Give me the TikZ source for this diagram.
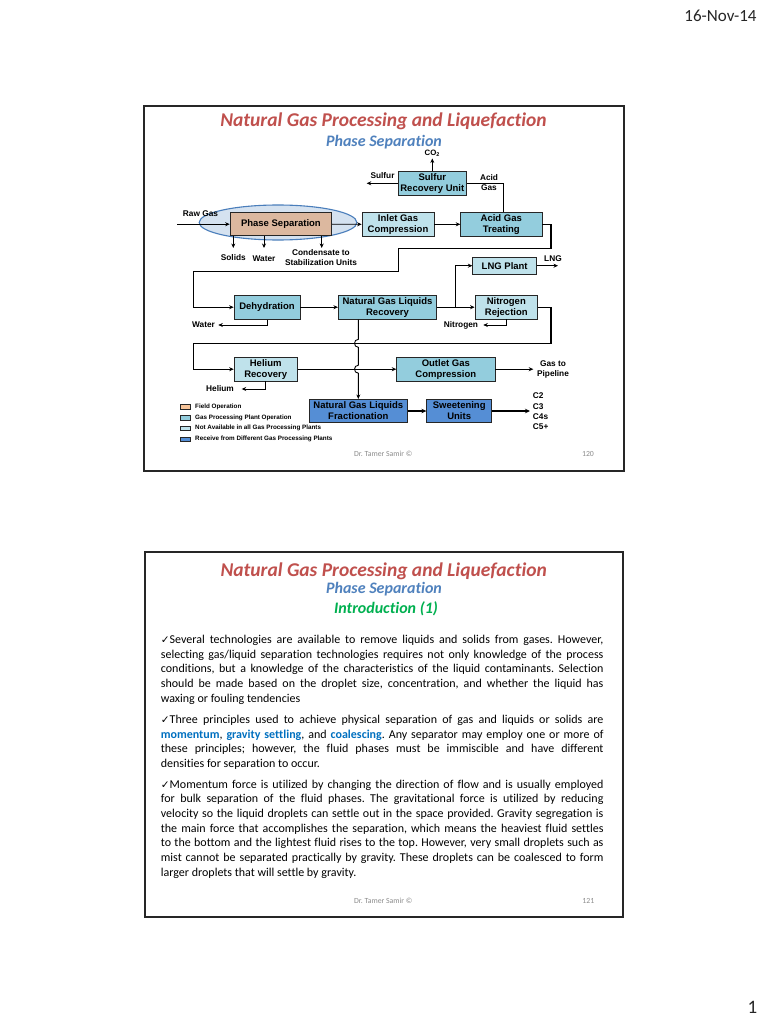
\documentclass[tikz,border=0pt]{standalone}
\usepackage{fontspec}
\setmainfont{Carlito}[Ligatures=NoCommon]
\newfontfamily\arialf{Liberation Sans}
\newfontfamily\dejavuf{DejaVu Sans}
\usetikzlibrary{arrows.meta,shapes.geometric}
\frenchspacing
\definecolor{titlered}{HTML}{C0504D}
\definecolor{subblue}{HTML}{4F81BD}
\definecolor{introgreen}{HTML}{00B050}
\definecolor{kwblue}{HTML}{0070C0}
\definecolor{teal}{HTML}{93CDDD}
\definecolor{ltblue}{HTML}{BFE2EB}
\definecolor{midblue}{HTML}{558ED5}
\definecolor{tanbox}{HTML}{DCB89F}
\definecolor{tanleg}{HTML}{F8C59A}
\definecolor{ellfill}{HTML}{D5E2F0}
\definecolor{ellline}{HTML}{4A7EBB}
\definecolor{footgray}{HTML}{8C8C8C}
\newcommand{\mychk}{{\dejavuf\fontsize{10.5}{10}\selectfont ✓}}
\begin{document}
\begin{tikzpicture}[x=1pt,y=-1pt,
  bx/.style n args={2}{draw=black!85, line width=0.7pt, inner sep=0pt, align=center,
     minimum width=#1pt, minimum height=#2pt,
     font={\arialf\bfseries\fontsize{9.5}{10.8}\selectfont}},
  lbl/.style={inner sep=0pt, align=center, font={\arialf\bfseries\fontsize{8.3}{10}\selectfont}},
  leg/.style={inner sep=0pt, anchor=west, font={\arialf\bfseries\fontsize{6.3}{7}\selectfont}},
  legsq/.style={draw=black!85, line width=0.7pt},
  ln/.style={line width=0.9pt},
  arr/.style={ln, -{Stealth[length=4.5pt,width=4pt]}},
  route/.style={line width=1.2pt, -{Stealth[length=4.5pt,width=4pt]}},
  tarr/.style={line width=1.6pt, -{Stealth[length=5pt,width=4.5pt]}},
  ttl/.style={inner sep=0pt, text=titlered, font={\bfseries\itshape\fontsize{19.5}{22}\selectfont}},
  sub/.style={inner sep=0pt, text=subblue, font={\bfseries\itshape\fontsize{16}{18}\selectfont}},
  foot/.style={inner sep=0pt, text=footgray, font={\fontsize{7.8}{9}\selectfont}},
  para/.style={inner sep=0pt, anchor=base west, text width=442.6pt, align=justify,
     font={\fontsize{12}{14.7}\selectfont\hyphenpenalty=10000\exhyphenpenalty=10000}},
  frame/.style={draw=black!85, line width=1.3pt}
]
\useasboundingbox (0,0) rectangle (768,1024);
\fill[white] (0,0) rectangle (768,1024);

% page header and number
\node[anchor=east, inner sep=0pt, font={\fontsize{17}{19}\selectfont}, text=black!85] (hdr) at (756.7,16) {16-Nov-14};
\node[anchor=east, inner sep=0pt, font={\fontsize{19}{21}\selectfont}, text=black!85] (pgnum) at (757.5,1007) {1};

% ---------------- slide 1 ----------------
\draw[frame] (144,106) rectangle (624,471);
\node[ttl] (t1) at (383.5,121.5) {Natural Gas Processing and Liquefaction};
\node[sub] (s1) at (384,142) {Phase Separation};

\node[draw=ellline, fill=ellfill, line width=1.1pt, ellipse, inner sep=0pt,
      minimum width=157.7pt, minimum height=35pt] (ell) at (278,222.5) {};

\node[bx={101.7}{23}, fill=tanbox] (PS) at (280.9,224.2) {Phase Separation};
\node[bx={72}{23.3}, fill=ltblue] (IGC) at (398,224.3) {Inlet Gas\\Compression};
\node[bx={81.3}{23.3}, fill=teal] (AGT) at (501.3,224.3) {Acid Gas\\Treating};
\node[bx={68.7}{23.3}, fill=teal] (SRU) at (432.3,183.3) {Sulfur\\Recovery Unit};
\node[bx={66}{24.3}, fill=teal] (DEH) at (267,307.2) {Dehydration};
\node[bx={98.4}{24.3}, fill=teal] (NGLR) at (387.5,307.2) {Natural Gas Liquids\\Recovery};
\node[bx={64}{16.7}, fill=ltblue] (LNG) at (504.7,265.7) {LNG Plant};
\node[bx={62.7}{23.3}, fill=ltblue] (NR) at (506.3,307.2) {Nitrogen\\Rejection};
\node[bx={63.3}{23.5}, fill=ltblue] (HR) at (265.7,369.2) {Helium\\Recovery};
\node[bx={98.3}{23.5}, fill=teal] (OGC) at (445.8,369.2) {Outlet Gas\\Compression};
\node[bx={98}{23.4}, fill=midblue] (NGLF) at (358.3,411) {Natural Gas Liquids\\Fractionation};
\node[bx={65}{23.4}, fill=midblue] (SU) at (459.2,411) {Sweetening\\Units};

% free ends
\coordinate (rawin) at (177,224.2);
\coordinate (co2end) at (432.3,158.5);
\coordinate (sulend) at (366.7,183.3);
\coordinate (solend) at (233.3,248);
\coordinate (watend) at (264,248);
\coordinate (conend) at (321.7,248);
\coordinate (dwatend) at (218.3,325);
\coordinate (lngend) at (558,265.7);
\coordinate (nitend) at (483.3,325);
\coordinate (helend) at (241.7,389);
\coordinate (pipeend) at (533.3,369.2);
\coordinate (cend) at (530,411);

% connectors
\draw[arr] (rawin) -- (PS.west);
\draw[arr] (PS.east) -- (IGC.west);
\draw[arr] (IGC.east) -- (AGT.west);
\draw[arr] (SRU.north) -- (co2end);
\draw[arr] (SRU.west) -- (sulend);
\draw[ln] ([xshift=2pt]AGT.north) |- (SRU.east);
\draw[arr] (PS.south west -| solend) -- (solend);
\draw[arr] (PS.south west -| watend) -- (watend);
\draw[arr] (PS.south west -| conend) -- (conend);
\draw[route] (AGT.east) -- (551,224.3) |- (398.3,248.3) |- (193.3,271.7) |- (DEH.west);
\draw[arr] (DEH.south) |- (dwatend);
\draw[arr] (DEH.east) -- (NGLR.west);
\draw[arr] (NGLR.east) -- (NR.west);
\draw[arr] (455,307.2) |- (LNG.west);
\draw[arr] (LNG.east) -- (lngend);
\draw[arr] (NR.south) |- (nitend);
\draw[route] (NR.east) -- (551,307.2) |- (193.3,343.3) |- (HR.west);
\draw[arr] (HR.south) |- (helend);
\draw[arr] (HR.east) -- (OGC.west);
\draw[arr] (OGC.east) -- (pipeend);
\draw[arr] (NGLR.south -| NGLF.north) -- (358.3,339.3)
   .. controls (353.3,339.3) and (353.3,347.3) .. (358.3,347.3) -- (358.3,365.2)
   .. controls (353.3,365.2) and (353.3,373.2) .. (358.3,373.2) -- (NGLF.north);
\draw[tarr] (NGLF.east) -- (SU.west);
\draw[tarr] (SU.east) -- (cend);

% labels
\node[lbl] (lraw) at (200.5,214) {Raw Gas};
\node[lbl, font={\arialf\bfseries\fontsize{7.8}{9}\selectfont}] (lco2) at (432.3,153.3) {CO\textsubscript{2}};
\node[lbl] (lsul) at (382.5,175.5) {Sulfur};
\node[lbl] (lacid) at (489,183) {Acid\\Gas};
\node[lbl] (lsol) at (233.3,258) {Solids};
\node[lbl] (lwat) at (264,259) {Water};
\node[lbl] (lcon) at (321,257.7) {Condensate to\\Stabilization Units};
\node[lbl] (ldwat) at (203.5,325) {Water};
\node[lbl] (llng) at (553,259) {LNG};
\node[lbl] (lnit) at (461,325.5) {Nitrogen};
\node[lbl] (lhel) at (220,389) {Helium};
\node[lbl] (lpipe) at (553,369) {Gas to\\Pipeline};
\node[lbl, anchor=west] (lc2) at (532.7,396) {C2};
\node[lbl, anchor=west] (lc3) at (532.7,406.2) {C3};
\node[lbl, anchor=west] (lc4) at (532.7,416.4) {C4s};
\node[lbl, anchor=west] (lc5) at (532.7,426.7) {C5+};

% legend
\draw[legsq, fill=tanleg] (180,404.5) rectangle (190,409);
\draw[legsq, fill=teal] (180,415.5) rectangle (190,420);
\draw[legsq, fill=ltblue] (180,426.1) rectangle (190,430.6);
\draw[legsq, fill=midblue] (180,437.1) rectangle (190,441.6);
\node[leg] (lg1) at (195,406.7) {Field Operation};
\node[leg] (lg2) at (195,417.7) {Gas Processing Plant Operation};
\node[leg] (lg3) at (195,428.3) {Not Available in all Gas Processing Plants};
\node[leg] (lg4) at (195,439.3) {Receive from Different Gas Processing Plants};

\node[foot] (f1) at (383.3,454.3) {Dr. Tamer Samir ©};
\node[foot] (n1) at (588,454.3) {120};

% ---------------- slide 2 ----------------
\draw[frame] (145,552) rectangle (623,917);
\node[ttl] (t2) at (383.7,571.5) {Natural Gas Processing and Liquefaction};
\node[sub] (s2) at (384,589) {Phase Separation};
\node[sub, text=introgreen] (i2) at (386,608.8) {Introduction (1)};

\node[para] (p1) at (160.7,643.3) {\mychk Several technologies are available to remove liquids and solids from gases. However,\linebreak
selecting gas/liquid separation technologies requires not only knowledge of the process\linebreak
conditions, but a knowledge of the characteristics of the liquid contaminants. Selection\linebreak
should be made based on the droplet size, concentration, and whether the liquid has\linebreak
waxing or fouling tendencies};

\node[para] (p2) at (160.7,723.3) {\mychk Three principles used to achieve physical separation of gas and liquids or solids are\linebreak
\textcolor{kwblue}{\textbf{momentum}}, \textcolor{kwblue}{\textbf{gravity settling}}, and \textcolor{kwblue}{\textbf{coalescing}}. Any separator may employ one or more of\linebreak
these principles; however, the fluid phases must be immiscible and have different\linebreak
densities for separation to occur.};

\node[para] (p3) at (160.7,788) {\mychk Momentum force is utilized by changing the direction of flow and is usually employed\linebreak
for bulk separation of the fluid phases. The gravitational force is utilized by reducing\linebreak
velocity so the liquid droplets can settle out in the space provided. Gravity segregation is\linebreak
the main force that accomplishes the separation, which means the heaviest fluid settles\linebreak
to the bottom and the lightest fluid rises to the top. However, very small droplets such as\linebreak
mist cannot be separated practically by gravity. These droplets can be coalesced to form\linebreak
larger droplets that will settle by gravity.};

\node[foot] (f2) at (383.3,900.7) {Dr. Tamer Samir ©};
\node[foot] (n2) at (588.3,900.7) {121};
\end{tikzpicture}
\end{document}
